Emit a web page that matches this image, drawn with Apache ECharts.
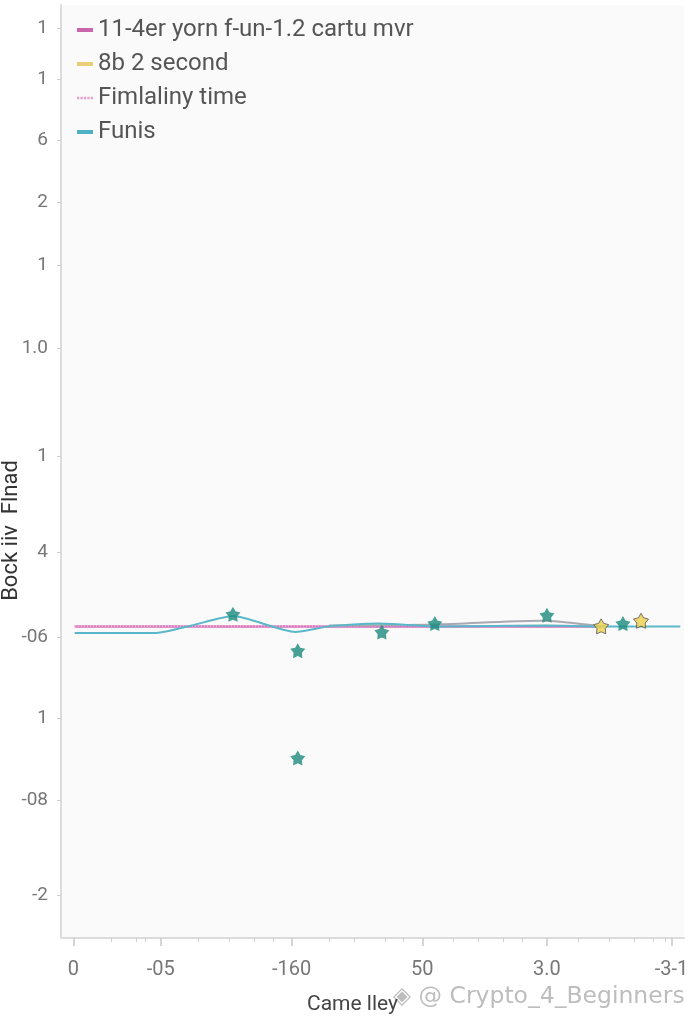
<!DOCTYPE html>
<html>
<head>
<meta charset="utf-8">
<script src="https://cdn.jsdelivr.net/npm/echarts@6/dist/echarts.min.js"></script>
<style>html,body{margin:0;padding:0;background:#fff}#c{width:688px;height:1024px}</style>
</head>
<body>
<div id="c"></div>
<script>
// Tick positions (axis units) and their printed labels
const xTickValues = [2, 16, 37, 58, 78, 98];
const xTickLabels = ["0", "-05", "-160", "50", "3.0", "-3-1"];
const xMinorTicks = [8, 12, 13.5, 22, 27, 31, 34, 43, 47, 52, 55, 63, 67, 71, 74, 83, 88, 92, 95, 97];
const yTickValues = [97.5, 92.0, 85.5, 78.9, 72.1, 63.2, 51.6, 41.3, 32.2, 23.6, 14.8, 4.6];
const yTickLabels = ["1", "1", "6", "2", "1", "1.0", "1", "4", "-06", "1", "-08", "-2"];

// Series
const seriesNames = ["11-4er yorn f-un-1.2 cartu mvr", "8b 2 second", "Fimlaliny time", "Funis"];
const magentaLine = [[2.2, 33.4], [86.7, 33.4]];
const pinkDotted = [[2.2, 33.4], [86.7, 33.5]];
const funisLine = [[2.2, 32.7], [15.3, 32.7], [21, 33.5], [27.6, 34.5], [37.6, 32.8], [43, 33.4], [51, 33.7], [60, 33.4], [78, 33.5], [86.7, 33.4], [99.4, 33.4]];
const funisPoints = [[27.6, 34.7], [38.0, 30.8], [38.0, 19.3], [51.5, 32.8], [60.0, 33.7], [78.0, 34.6], [90.2, 33.7]];
const secondPoints = [[86.7, 33.4], [93.1, 34.0]];
const grayLine = [[43, 33.5], [60, 33.6], [77, 34.0], [86.7, 33.4]];

const chart = echarts.init(document.getElementById('c'), null, {renderer: 'canvas'});
const xLabelMap = {}; xTickValues.forEach((v, i) => xLabelMap[v] = xTickLabels[i]);
const yLabelMap = {}; yTickValues.forEach((v, i) => yLabelMap[v] = yTickLabels[i]);
const dotted = 'path://M0,0h2v2h-2zM3,0h2v2h-2zM6,0h2v2h-2zM9,0h2v2h-2zM12,0h2v2h-2z';
const star = 'path://M50,0 L66.46,27.35 L97.55,34.55 L76.63,58.65 L79.39,90.45 L50,78 L20.61,90.45 L23.37,58.65 L2.45,34.55 L33.54,27.35 Z';

chart.setOption({
  backgroundColor: '#ffffff',
  animation: false,
  grid: {left: 61, right: 4, top: 5, bottom: 86, show: true, backgroundColor: '#fafafa', borderWidth: 0, outerBoundsMode: 'none'},
  legend: {
    left: 72, top: 12, orient: 'vertical', itemWidth: 16, itemHeight: 4, itemGap: 8,
    textStyle: {fontFamily: 'Roboto', fontSize: 24, color: '#555', lineHeight: 26},
    data: [
      {name: seriesNames[0], icon: 'rect', itemStyle: {color: '#c964ad', borderWidth: 0}},
      {name: seriesNames[1], icon: 'rect', itemStyle: {color: '#e5c35a', borderWidth: 0}},
      {name: seriesNames[2], icon: dotted, itemStyle: {color: '#e6a0cc', borderWidth: 0}},
      {name: seriesNames[3], icon: 'rect', itemStyle: {color: '#4fb2c4', borderWidth: 0}}
    ]
  },
  xAxis: [{
    type: 'value', min: 0, max: 100,
    name: 'Came lley', nameLocation: 'middle', nameGap: 56, nameMoveOverlap: false,
    nameTextStyle: {fontFamily: 'Roboto', fontSize: 21, color: '#444', padding: [0, 40, 0, 0]},
    axisLine: {show: true, lineStyle: {color: '#dcdcdc', width: 2}},
    axisTick: {show: true, customValues: xTickValues, length: 8, lineStyle: {color: '#c8c8c8', width: 1.5}},
    axisLabel: {customValues: xTickValues, formatter: v => xLabelMap[v] ?? '', fontFamily: 'Roboto', fontSize: 20, color: '#777', margin: 22},
    splitLine: {show: false}
  }, {
    type: 'value', min: 0, max: 100, position: 'bottom',
    axisLine: {show: false},
    axisTick: {show: true, customValues: xMinorTicks, length: 4, lineStyle: {color: '#cfcfcf', width: 1}},
    axisLabel: {show: false}, splitLine: {show: false}
  }],
  yAxis: {
    type: 'value', min: 0, max: 100,
    name: 'Bock iiv  Flnad', nameLocation: 'middle', nameGap: 39, nameRotate: 90, nameMoveOverlap: false,
    nameTextStyle: {fontFamily: 'Roboto', fontSize: 22, color: '#333', padding: [0, 118, 0, 0]},
    axisLine: {show: true, lineStyle: {color: '#dcdcdc', width: 2}},
    axisTick: {show: true, customValues: yTickValues, length: 4, lineStyle: {color: '#cfcfcf'}},
    axisLabel: {customValues: yTickValues, formatter: v => yLabelMap[v] ?? '', fontFamily: 'Roboto', fontSize: 19, color: '#777', margin: 13},
    splitLine: {show: false}
  },
  series: [
    {name: seriesNames[0], type: 'line', data: magentaLine, symbol: 'none', lineStyle: {color: '#d36fba', width: 2.5}, itemStyle: {color: '#c964ad'}, z: 2},
    {name: seriesNames[2], type: 'line', data: pinkDotted, symbol: 'none', lineStyle: {color: '#f2b3da', width: 1.5, type: 'dotted'}, itemStyle: {color: '#e6a0cc'}, z: 3},
    {name: 'gray', type: 'line', data: grayLine, symbol: 'none', smooth: 0.3, lineStyle: {color: '#a9a9b0', width: 2}, z: 3},
    {name: seriesNames[3], type: 'line', data: funisLine, symbol: 'none', smooth: 0.2, lineStyle: {color: '#5ab7c9', width: 2}, itemStyle: {color: '#4fb2c4'}, z: 4},
    {name: seriesNames[3], type: 'scatter', data: funisPoints, symbol: star, symbolSize: 15, itemStyle: {color: '#1b8a7d'}, z: 5},
    {name: seriesNames[1], type: 'scatter', data: secondPoints, symbol: star, symbolSize: 15, itemStyle: {color: '#f0d048', borderColor: '#555', borderWidth: 1}, z: 6}
  ],
  graphic: [{
    type: 'text', left: 393, top: 985,
    style: {text: '◈ @ Crypto_4_Beginners', fontFamily: 'DejaVu Sans', fontSize: 23.5, fill: '#bdbdbd'}
  }]
});
</script>
</body>
</html>
